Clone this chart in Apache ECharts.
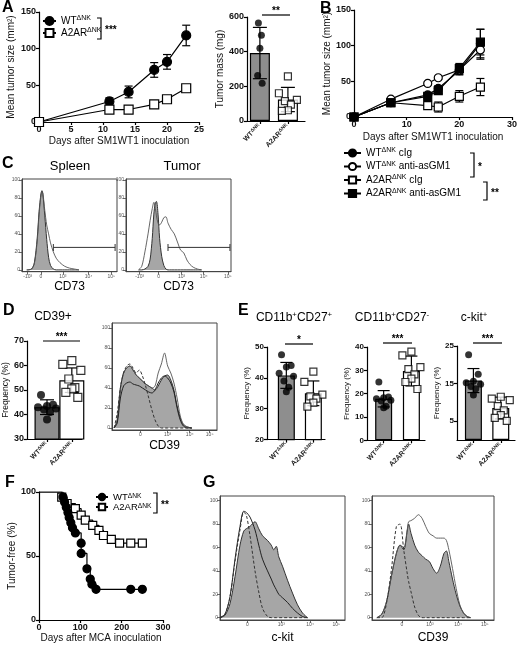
<!DOCTYPE html>
<html>
<head>
<meta charset="utf-8">
<script src="https://cdn.jsdelivr.net/npm/echarts@6/dist/echarts.min.js"></script>
<style>
  html, body { margin: 0; padding: 0; background: #fff; }
  #chart { width: 520px; height: 649px; }
</style>
</head>
<body>
<div id="chart"></div>
<script>
// ---------- data ----------
// A: tumor growth (SM1WT1)
const daysA = [0, 11, 14, 18, 20, 23];
const wtA = [0, 28, 41, 71, 82, 118];
const wtAErr = [0, 5, 8, 10, 10, 14];
const a2arA = [0, 17, 17, 24, 31, 46];
const a2arAErr = [0, 2, 2, 3, 3, 5];
// A: tumor mass (mg)
const massWT = [565, 495, 420, 262, 218];
const massA2AR = [258, 160, 122, 115, 95, 62, 58];
const massMean = [392, 124];
const massSD = [148, 70];

// B: depletion
const daysB = [0, 7, 14, 16, 20, 24];
const wtCig = [0, 20, 31, 40, 65, 103];
const wtCigErr = [0, 1, 3, 4, 6, 20];
const wtAnti = [0, 25, 47, 55, 66, 94];
const wtAntiErr = [0, 1, 2, 2, 6, 13];
const a2arCig = [0, 20, 16, 14, 29, 42];
const a2arCigErr = [0, 1, 3, 7, 8, 12];
const a2arAnti = [0, 20, 29, 37, 68, 105];
const a2arAntiErr = [0, 1, 3, 4, 7, 18];

// C: CD73 histograms (x on display scale 0-100, y % of max)
const spleenX = [5, 10, 13, 16, 18, 20, 21, 22, 24, 26, 28, 30, 33, 36, 40, 45, 50, 55, 60];
const spleenCtrl = [0, 1, 8, 35, 65, 85, 88, 84, 60, 34, 14, 5, 1, 0, 0, 0, 0, 0, 0];
const spleenStain = [0, 1, 7, 32, 62, 83, 87, 85, 66, 50, 40, 30, 20, 13, 8, 4, 2, 1, 0];
const spleenGate = [33, 98];
const tumorX = [12, 15, 18, 21, 23, 25, 26.5, 28, 29, 30.5, 32, 34, 36, 38, 40, 43, 46, 49, 52, 55, 58, 61, 64, 68, 72];
const tumorCtrl = [0, 0, 1, 4, 12, 35, 62, 75, 76, 62, 35, 15, 5, 1, 0, 0, 0, 0, 0, 0, 0, 0, 0, 0, 0];
const tumorStain = [0, 4, 20, 40, 55, 68, 75, 68, 60, 52, 50, 53, 58, 59, 52, 45, 40, 31, 22, 19, 11, 6, 3, 1, 0];
const tumorGate = [40, 99];
const gateLevel = 25;

// D: CD39+
const cd39WT = [48, 44, 43.5, 43, 42.5, 42, 41, 38];
const cd39A2AR = [62, 60.5, 58, 54.5, 51, 50.5, 49, 47];
const cd39Mean = [43, 54];
const cd39SD = [3, 5];
const cd39X = [2, 5, 8, 11, 14, 17, 20, 23, 26, 29, 32, 35, 38, 41, 44, 47, 50, 53, 56, 59, 62, 65, 68, 72, 76];
const cd39Ctrl = [0, 8, 40, 55, 60, 62, 58, 53, 50, 47, 44, 42, 40, 38, 42, 48, 52, 53, 48, 38, 22, 10, 3, 1, 0];
const cd39Open = [0, 8, 40, 55, 60, 62, 58, 53, 50, 47, 44, 42, 40, 42, 55, 64, 75, 62, 55, 45, 30, 12, 4, 1, 0];
const cd39Dark = [0, 5, 30, 42, 45, 46, 44, 43, 42, 40, 38, 36, 35, 38, 45, 50, 52, 50, 45, 36, 20, 8, 2, 0, 0];
const cd39Iso = [0, 15, 40, 55, 62, 64, 60, 55, 58, 52, 42, 30, 18, 8, 2, 0, 0, 0, 0, 0, 0, 0, 0, 0, 0];

// E: subsets
const cd27pWT = [47.5, 44, 43.5, 41.5, 40.5, 39, 37, 35.5];
const cd27pA2AR = [42, 38.7, 34.6, 34, 33.3, 32, 30.7];
const cd27pMean = [40.8, 35];
const cd27pSD = [4.2, 4];
const cd27nWT = [25, 18.6, 18.2, 17.8, 17.2, 16.8, 14.6, 14];
const cd27nA2AR = [38, 36.4, 31.4, 30.5, 28.3, 26.4, 25, 22];
const cd27nMean = [17.8, 29.7];
const cd27nSD = [3.5, 6.4];
const ckitWT = [22.7, 17.5, 15.6, 15.2, 14.8, 14.2, 13.6, 12];
const ckitA2AR = [11.5, 11, 10.6, 9, 7.9, 6.6, 5.9, 5.1];
const ckitMean = [15.8, 8.5];
const ckitSD = [3.2, 2.9];

// F: MCA tumor-free survival
const wtT = [0, 58, 62, 66, 70, 73, 77, 81, 88, 102, 102, 116, 124, 128, 138, 222, 250];
const wtS = [100, 96, 92, 88, 84, 80, 76, 72, 68, 60, 52, 40, 32, 28, 24, 24, 24];
const a2arT = [0, 55, 68, 88, 102, 112, 130, 145, 156, 175, 195, 222, 250];
const a2arS = [100, 96, 91, 87, 82, 78, 74, 70, 66, 63, 60, 60, 60];

// G: c-kit and CD39 histograms
const gLX = [0, 4, 8, 12, 16, 19, 21, 24, 28, 31, 34, 38, 41, 43, 45, 47, 50, 54, 58, 62, 66, 70];
const gLCtrl = [0, 2, 12, 35, 62, 74, 76, 78, 82, 76, 70, 66, 62, 58, 61, 52, 44, 32, 21, 11, 4, 0];
const gLStain = [0, 3, 18, 50, 78, 91, 90, 86, 75, 62, 50, 40, 33, 28, 24, 20, 17, 13, 8, 4, 1, 0];
const gLIso = [0, 3, 18, 48, 75, 90, 88, 70, 40, 22, 8, 1, 0, 0, 0, 0, 0, 0, 0, 0, 0, 0];
const gRX = [4, 8, 12, 16, 20, 23, 26, 29, 30, 32, 35, 38, 41, 44, 47, 50, 53, 56, 59, 61, 63, 66, 69, 72, 75, 78, 81];
const gRCtrl = [0, 3, 14, 36, 55, 62, 58, 75, 80, 72, 62, 56, 53, 50, 48, 42, 38, 44, 55, 57, 48, 33, 20, 10, 4, 1, 0];
const gRStain = [0, 3, 14, 36, 55, 62, 60, 76, 82, 83, 85, 88, 85, 78, 72, 70, 68, 68, 68, 66, 58, 42, 25, 11, 4, 1, 0];
const gRIso = [0, 0, 13, 42, 78, 80, 58, 37, 31, 22, 9, 2, 0, 0, 0, 0, 0, 0, 0, 0, 0, 0, 0, 0, 0, 0, 0];

// flow axis ticks (display scale)
const flowYTicks = [0, 20, 40, 60, 80, 100];
const logLabels = ['-10³', '0', '10³', '10⁴', '10⁵'];
const spleenTicks = [6, 20, 43, 70, 94];
const tumorTicks = [13, 31, 53, 74, 97];
const cd39Ticks = [27, 53, 74, 93];
const gLTicks = [22, 49, 72, 93];
const gRTicks = [24.5, 47.5, 70.6, 92.4];

// ---------- helpers ----------
const FONT = '"Liberation Sans", Arial, Helvetica, sans-serif';
const zip = (xs, ys) => xs.map((x, i) => [x, ys[i]]);
const zip3 = (xs, ys, es) => xs.map((x, i) => [x, ys[i], es[i]]);
const jit = [-6, 6, 0, -9, 9, -3, 3, 0];
const GRAY = '#8e8e8e';
const FLOWGRAY = '#a6a6a6';

const boxGrid = { show: true, borderColor: '#444', borderWidth: 1, backgroundColor: 'transparent' };
const grids = [
  { left: 39, top: 12, width: 160, height: 110 },                 // 0 A growth
  { left: 247, top: 17, width: 58, height: 104 },                 // 1 A mass
  { left: 354, top: 10, width: 161, height: 107 },                // 2 B
  Object.assign({ left: 22, top: 179, width: 95, height: 92.7 }, boxGrid),   // 3 C spleen
  Object.assign({ left: 126, top: 179, width: 105, height: 92.7 }, boxGrid), // 4 C tumor
  { left: 22, top: 341, width: 60, height: 98 },                  // 5 D bars
  Object.assign({ left: 112, top: 323, width: 105, height: 107 }, boxGrid),  // 6 D hist
  { left: 267, top: 347, width: 58, height: 92.6 },               // 7 E1
  { left: 367, top: 347, width: 58, height: 93.3 },               // 8 E2
  { left: 457, top: 346, width: 58, height: 94 },                 // 9 E3
  { left: 39, top: 492, width: 124, height: 128 },                // 10 F
  Object.assign({ left: 220, top: 496, width: 125, height: 124 }, boxGrid),  // 11 G left
  Object.assign({ left: 372, top: 496, width: 122, height: 124 }, boxGrid)   // 12 G right
];

const xAxes = [], yAxes = [], series = [], graphics = [];

function pAxis(gi, o) {
  return Object.assign({
    gridIndex: gi, type: 'value',
    axisLine: { show: true, onZero: false, lineStyle: { color: '#000', width: 1.2 } },
    axisTick: { show: true, length: 3, lineStyle: { color: '#000', width: 1.2 } },
    axisLabel: { fontSize: 9, fontWeight: 'bold', color: '#111', fontFamily: FONT, margin: 3 },
    splitLine: { show: false },
    nameLocation: 'middle',
    nameTextStyle: { fontSize: 10, color: '#111', fontFamily: FONT }
  }, o);
}

const catRich = {
  n: { fontSize: 7, fontWeight: 'bold', color: '#222', fontFamily: FONT, lineHeight: 8 },
  s: { fontSize: 5, fontWeight: 'bold', color: '#222', fontFamily: FONT, verticalAlign: 'top', lineHeight: 8 }
};
function catAxis(gi, min, max) {
  return pAxis(gi, {
    min, max,
    axisTick: { show: true, length: 3, customValues: [0, 1], lineStyle: { color: '#000', width: 1.2 } },
    axisLabel: {
      customValues: [0, 1], rotate: 45, margin: 4,
      formatter: v => (Math.round(v) === 0 ? '{n|WT}{s|ΔNK}' : '{n|A2AR}{s|ΔNK}'),
      rich: catRich
    }
  });
}

function flowY(gi, min, max) {
  return {
    gridIndex: gi, type: 'value', min, max,
    axisLine: { show: true, onZero: false, lineStyle: { color: '#444', width: 1 } },
    axisTick: { show: true, length: 3, customValues: flowYTicks, lineStyle: { color: '#444', width: 0.8 } },
    axisLabel: { customValues: flowYTicks, fontSize: 5, color: '#555', fontFamily: FONT, margin: 2 },
    splitLine: { show: false }
  };
}
function flowX(gi, pos, labels, name, gap) {
  return {
    gridIndex: gi, type: 'value', min: 0, max: 100,
    axisLine: { show: true, onZero: false, lineStyle: { color: '#444', width: 1 } },
    axisTick: { show: true, length: 3, customValues: pos, lineStyle: { color: '#444', width: 0.8 } },
    axisLabel: {
      customValues: pos, fontSize: 5, color: '#555', fontFamily: FONT, margin: 2,
      formatter: v => labels[pos.findIndex(p => Math.abs(p - v) < 0.01)] || ''
    },
    splitLine: { show: false },
    name, nameLocation: 'middle', nameGap: gap,
    nameTextStyle: { fontSize: 12, color: '#000', fontFamily: FONT }
  };
}

function errS(gi, data, cap) {
  return {
    type: 'custom', xAxisIndex: gi, yAxisIndex: gi, z: 3, silent: true,
    data,
    renderItem: (params, api) => {
      const x = api.value(0), m = api.value(1), e = api.value(2);
      const t = api.coord([x, m + e]), b = api.coord([x, m - e]);
      const st = { stroke: '#000', lineWidth: 1.2 };
      return {
        type: 'group', children: [
          { type: 'line', shape: { x1: t[0], y1: t[1], x2: b[0], y2: b[1] }, style: st },
          { type: 'line', shape: { x1: t[0] - cap, y1: t[1], x2: t[0] + cap, y2: t[1] }, style: st },
          { type: 'line', shape: { x1: b[0] - cap, y1: b[1], x2: b[0] + cap, y2: b[1] }, style: st }
        ]
      };
    }
  };
}

function lineS(gi, name, data, symbol, size, filled) {
  return {
    type: 'line', name, xAxisIndex: gi, yAxisIndex: gi, data, z: 4,
    symbol, symbolSize: size, showAllSymbol: true,
    lineStyle: { color: '#000', width: 1.2 },
    itemStyle: { color: filled ? '#000' : '#fff', borderColor: '#000', borderWidth: 1.2 }
  };
}

function barPanel(gi, wt, a2ar, mean, sd, barW, ptSize, cap, wtSpread) {
  series.push({
    type: 'bar', xAxisIndex: gi, yAxisIndex: gi, barWidth: barW, z: 2, silent: true,
    itemStyle: { borderColor: '#000', borderWidth: 1.2 },
    data: [
      { value: [0, mean[0]], itemStyle: { color: GRAY } },
      { value: [1, mean[1]], itemStyle: { color: '#fff' } }
    ]
  });
  series.push({
    type: 'scatter', xAxisIndex: gi, yAxisIndex: gi, z: 4, symbol: 'circle', symbolSize: ptSize,
    itemStyle: { color: '#000' },
    data: wt.map((v, i) => ({ value: [0, v], symbolOffset: [jit[i % jit.length] * wtSpread, 0] }))
  });
  series.push({
    type: 'scatter', xAxisIndex: gi, yAxisIndex: gi, z: 4, symbol: 'rect', symbolSize: ptSize,
    itemStyle: { color: '#fff', borderColor: '#000', borderWidth: 1.2 },
    data: a2ar.map((v, i) => ({ value: [1, v], symbolOffset: [jit[(i + 2) % jit.length], 0] }))
  });
  series.push(errS(gi, [[0, mean[0], sd[0]], [1, mean[1], sd[1]]], cap));
}

function flowS(gi, xs, ys, kind) {
  const s = {
    type: 'line', xAxisIndex: gi, yAxisIndex: gi, data: zip(xs, ys),
    symbol: 'none', smooth: 0.3, silent: true
  };
  if (kind === 'fill') {
    s.lineStyle = { color: '#333', width: 1 };
    s.areaStyle = { color: FLOWGRAY, opacity: 1 };
    s.z = 2;
  } else if (kind === 'dash') {
    s.lineStyle = { color: '#333', width: 1, type: [3, 2] };
    s.z = 4;
  } else if (kind === 'dark') {
    s.lineStyle = { color: '#222', width: 1 };
    s.z = 3;
  } else {
    s.lineStyle = { color: '#555', width: 0.9 };
    s.z = 3;
  }
  return s;
}

function gateS(gi, xs) {
  return {
    type: 'line', xAxisIndex: gi, yAxisIndex: gi, silent: true, z: 5,
    data: xs.map(x => [x, gateLevel]),
    symbol: 'rect', symbolSize: [1, 7],
    lineStyle: { color: '#333', width: 1 }, itemStyle: { color: '#333' }
  };
}

function sigBar(x1, x2, y, label) {
  graphics.push({ type: 'line', shape: { x1, y1: y, x2, y2: y }, style: { stroke: '#000', lineWidth: 1.2 } });
  graphics.push({ type: 'text', x: (x1 + x2) / 2, y: y + 1, style: {
    text: label, font: 'bold 10px ' + FONT, fill: '#000',
    align: 'center', verticalAlign: 'bottom', textAlign: 'center', textVerticalAlign: 'bottom' } });
}
function bracket(x, y1, y2, label) {
  graphics.push({ type: 'polyline', shape: { points: [[x - 4, y1], [x, y1], [x, y2], [x - 4, y2]] },
    style: { stroke: '#000', fill: null, lineWidth: 1.2 } });
  graphics.push({ type: 'text', x: x + 4, y: (y1 + y2) / 2 + 2, style: {
    text: label, font: 'bold 10px ' + FONT, fill: '#000',
    align: 'left', verticalAlign: 'middle', textAlign: 'left', textVerticalAlign: 'middle' } });
}

// ---------- A ----------
xAxes.push(pAxis(0, { min: 0, max: 25, interval: 5, name: 'Days after SM1WT1 inoculation', nameGap: 14 }));
yAxes.push(pAxis(0, { min: 0, max: 150, interval: 50, name: 'Mean tumor size (mm²)', nameGap: 23 }));
series.push(errS(0, zip3(daysA, wtA, wtAErr), 4));
series.push(errS(0, zip3(daysA, a2arA, a2arAErr), 4));
series.push(lineS(0, 'WT-A', zip(daysA, wtA), 'circle', 9, true));
series.push(lineS(0, 'A2AR-A', zip(daysA, a2arA), 'rect', 9, false));

xAxes.push(catAxis(1, -0.46, 1.61));
yAxes.push(pAxis(1, { min: 0, max: 600, interval: 200, name: 'Tumor mass (mg)', nameGap: 20 }));
barPanel(1, massWT, massA2AR, massMean, massSD, 20, 7, 7, 0.25);

// ---------- B ----------
xAxes.push(pAxis(2, { min: 0, max: 30, interval: 10, name: 'Days after SM1WT1 inoculation', nameGap: 15 }));
yAxes.push(pAxis(2, { min: 0, max: 150, interval: 50, name: 'Mean tumor size (mm²)', nameGap: 18 }));
series.push(errS(2, zip3(daysB, wtCig, wtCigErr), 4));
series.push(errS(2, zip3(daysB, wtAnti, wtAntiErr), 4));
series.push(errS(2, zip3(daysB, a2arCig, a2arCigErr), 4));
series.push(errS(2, zip3(daysB, a2arAnti, a2arAntiErr), 4));
series.push(lineS(2, 'WT cIg', zip(daysB, wtCig), 'circle', 8, true));
series.push(lineS(2, 'WT anti', zip(daysB, wtAnti), 'circle', 8, false));
series.push(lineS(2, 'A2AR cIg', zip(daysB, a2arCig), 'rect', 8, false));
series.push(lineS(2, 'A2AR anti', zip(daysB, a2arAnti), 'rect', 8, true));

// ---------- C ----------
xAxes.push(flowX(3, spleenTicks, logLabels, 'CD73', 9));
yAxes.push(flowY(3, -2, 101));
series.push(flowS(3, spleenX, spleenCtrl, 'fill'));
series.push(flowS(3, spleenX, spleenStain, 'open'));
series.push(gateS(3, spleenGate));
xAxes.push(flowX(4, tumorTicks, logLabels, 'CD73', 9));
yAxes.push(flowY(4, -2, 101));
series.push(flowS(4, tumorX, tumorCtrl, 'fill'));
series.push(flowS(4, tumorX, tumorStain, 'open'));
series.push(gateS(4, tumorGate));

// ---------- D ----------
xAxes.push(catAxis(5, -0.81, 1.41));
yAxes.push(pAxis(5, { min: 30, max: 70, interval: 10, name: 'Frequency (%)', nameGap: 14,
  nameTextStyle: { fontSize: 8.5, color: '#111', fontFamily: FONT } }));
barPanel(5, cd39WT, cd39A2AR, cd39Mean, cd39SD, 25, 8, 7, 1);

xAxes.push(flowX(6, cd39Ticks, logLabels.slice(1), 'CD39', 10));
yAxes.push(flowY(6, -2, 105));
series.push(flowS(6, cd39X, cd39Ctrl, 'fill'));
series.push(flowS(6, cd39X, cd39Open, 'open'));
series.push(flowS(6, cd39X, cd39Dark, 'dark'));
series.push(flowS(6, cd39X, cd39Iso, 'dash'));

// ---------- E ----------
const eName = { fontSize: 8, color: '#111', fontFamily: FONT };
const eLab = { fontSize: 8, fontWeight: 'bold', color: '#111', fontFamily: FONT, margin: 3 };
xAxes.push(catAxis(7, -0.715, 1.43));
yAxes.push(pAxis(7, { min: 20, max: 50, interval: 10, name: 'Frequency (%)', nameGap: 13, nameTextStyle: eName, axisLabel: eLab }));
barPanel(7, cd27pWT, cd27pA2AR, cd27pMean, cd27pSD, 17, 7, 6, 0.8);
xAxes.push(catAxis(8, -0.6, 1.49));
yAxes.push(pAxis(8, { min: 0, max: 40, interval: 10, name: 'Frequency (%)', nameGap: 14, nameTextStyle: eName, axisLabel: eLab }));
barPanel(8, cd27nWT, cd27nA2AR, cd27nMean, cd27nSD, 17, 7, 6, 0.8);
xAxes.push(catAxis(9, -0.6, 1.52));
yAxes.push(pAxis(9, { min: 0, max: 25, name: 'Frequency (%)', nameGap: 14, nameTextStyle: eName,
  axisTick: { show: true, length: 3, customValues: [5, 15, 25], lineStyle: { color: '#000', width: 1.2 } },
  axisLabel: Object.assign({ customValues: [5, 15, 25] }, eLab) }));
barPanel(9, ckitWT, ckitA2AR, ckitMean, ckitSD, 17, 7, 6, 0.8);

// ---------- F ----------
xAxes.push(pAxis(10, { min: 0, max: 300, interval: 100, name: 'Days after MCA inoculation', nameGap: 13 }));
yAxes.push(pAxis(10, { min: 0, max: 100, interval: 50, name: 'Tumor-free (%)', nameGap: 21 }));
const kmData = (ts, ss) => ts.map((t, i) => (i === 0 ? { value: [t, ss[i]], symbol: 'none' } : [t, ss[i]]));
series.push(Object.assign(lineS(10, 'A2AR-F', kmData(a2arT, a2arS), 'rect', 8, false), { step: 'end' }));
series.push(Object.assign(lineS(10, 'WT-F', kmData(wtT, wtS), 'circle', 8, true), { step: 'end' }));

// ---------- G ----------
xAxes.push(flowX(11, gLTicks, logLabels.slice(1), 'c-kit', 12));
yAxes.push(flowY(11, -2, 104));
series.push(flowS(11, gLX, gLCtrl, 'fill'));
series.push(flowS(11, gLX, gLStain, 'dark'));
series.push(flowS(11, gLX, gLIso, 'dash'));
xAxes.push(flowX(12, gRTicks, logLabels.slice(1), 'CD39', 12));
yAxes.push(flowY(12, -2, 104));
series.push(flowS(12, gRX, gRCtrl, 'fill'));
series.push(flowS(12, gRX, gRStain, 'open'));
series.push(flowS(12, gRX, gRIso, 'dash'));

// ---------- annotations ----------
bracket(101, 18, 39, '***');
sigBar(262, 290, 15, '**');
bracket(474, 153, 177, '*');
bracket(487, 182, 200, '**');
sigBar(43, 80, 341, '***');
sigBar(285, 313, 344, '*');
sigBar(383, 412, 343, '***');
sigBar(473, 502, 343, '***');
bracket(157, 493, 513, '**');

// ---------- titles ----------
const letter = (t, left, top) => ({ text: t, left, top, padding: 0,
  textStyle: { fontSize: 16, fontWeight: 'bold', color: '#000', fontFamily: FONT } });
const supRich = (size) => ({
  t: { fontSize: size, color: '#000', fontFamily: FONT, lineHeight: size + 2 },
  s: { fontSize: size * 0.65, color: '#000', fontFamily: FONT, verticalAlign: 'top', lineHeight: size + 2 }
});
const sub = (t, cx, top, size) => ({ text: t, left: cx, top, padding: 0, textAlign: 'center',
  textStyle: { fontSize: size, color: '#000', fontFamily: FONT, fontWeight: 'normal', rich: supRich(size) } });
const titles = [
  letter('A', 2, 0), letter('B', 320, 1), letter('C', 2, 156), letter('D', 3, 303),
  letter('E', 238, 303), letter('F', 5, 475), letter('G', 203, 475),
  sub('Spleen', 70, 160, 13), sub('Tumor', 182, 160, 13),
  sub('CD39+', 53, 311, 12),
  sub('{t|CD11b}{s|+}{t|CD27}{s|+}', 294, 311, 12),
  sub('{t|CD11b}{s|+}{t|CD27}{s|-}', 392, 311, 12),
  sub('{t|c-kit}{s|+}', 474, 311, 12)
];

// ---------- legends ----------
const legendText = {
  'WT-A': '{n|WT}{s|ΔNK}', 'A2AR-A': '{n|A2AR}{s|ΔNK}',
  'WT cIg': '{n|WT}{s|ΔNK}{n| cIg}', 'WT anti': '{n|WT}{s|ΔNK}{n| anti-asGM1}',
  'A2AR cIg': '{n|A2AR}{s|ΔNK}{n| cIg}', 'A2AR anti': '{n|A2AR}{s|ΔNK}{n| anti-asGM1}',
  'WT-F': '{n|WT}{s|ΔNK}', 'A2AR-F': '{n|A2AR}{s|ΔNK}'
};
const legRich = (size, lh) => ({
  n: { fontSize: size, color: '#000', fontFamily: FONT, lineHeight: lh },
  s: { fontSize: size * 0.7, color: '#000', fontFamily: FONT, verticalAlign: 'top', lineHeight: lh }
});
const mkLegend = (data, left, top, w, h, size, lh, gap) => ({
  data, left, top, orient: 'vertical', padding: 0, itemGap: gap, itemWidth: w, itemHeight: h,
  selectedMode: false, formatter: n => legendText[n],
  textStyle: { fontSize: size, fontFamily: FONT, color: '#000', rich: legRich(size, lh) }
});
const legends = [
  mkLegend(['WT-A', 'A2AR-A'], 42, 15, 13, 10, 10, 12, 1),
  mkLegend(['WT cIg', 'WT anti', 'A2AR cIg', 'A2AR anti'], 343, 147, 17, 9, 10, 12, 2.5),
  mkLegend(['WT-F', 'A2AR-F'], 95, 492, 12, 8, 9.5, 9, 0)
];

const chart = echarts.init(document.getElementById('chart'));
chart.setOption({
  animation: false,
  backgroundColor: '#fff',
  textStyle: { fontFamily: FONT },
  title: titles,
  legend: legends,
  grid: grids,
  xAxis: xAxes,
  yAxis: yAxes,
  series,
  graphic: graphics
});
</script>
</body>
</html>
